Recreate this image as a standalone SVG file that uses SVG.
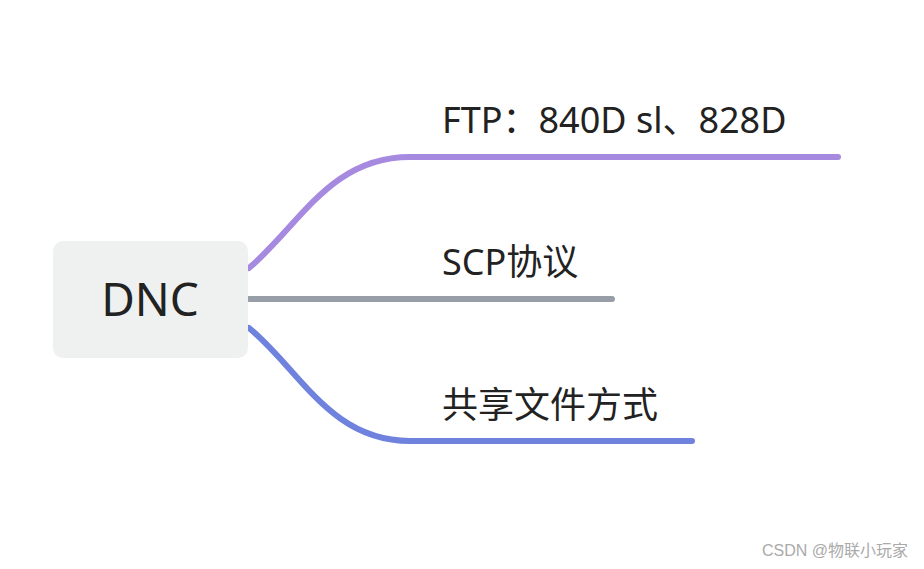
<svg xmlns="http://www.w3.org/2000/svg" width="924" height="569" viewBox="0 0 924 569">
<style>
.t{font-family:"Noto Sans","Noto Sans CJK SC",sans-serif;fill:#222;}
.l{fill:none;stroke-width:6;stroke-linecap:round;}
</style>
<rect width="924" height="569" fill="#fff"/>
<g id="connectors">
<path class="l" stroke="#a58ae0" d="M249,268 C300,225 330,157 410,157 L838,157"/>
<path class="l" stroke="#979ea8" stroke-linecap="butt" d="M249,299 L612,299"/>
<path class="l" stroke="#6f82dd" d="M249,328 C300,370 330,441 410,441 L692,441"/>
</g>
<g id="dnc">
<rect x="53" y="241" width="195" height="117" rx="10" fill="#eff0f0"/>
<text class="t" x="150" y="316" font-size="46" text-anchor="middle">DNC</text>
</g>
<g id="ftp"><text class="t" x="442" y="133" font-size="36">FTP：840D sl、828D</text></g>
<g id="scp"><text class="t" x="442" y="275" font-size="36">SCP协议</text></g>
<g id="share"><text class="t" x="442" y="418" font-size="36">共享文件方式</text></g>
<text x="908" y="556" font-family="Liberation Sans,Noto Sans CJK SC,sans-serif" font-size="16" fill="#aaa" text-anchor="end">CSDN @物联小玩家</text>
</svg>
